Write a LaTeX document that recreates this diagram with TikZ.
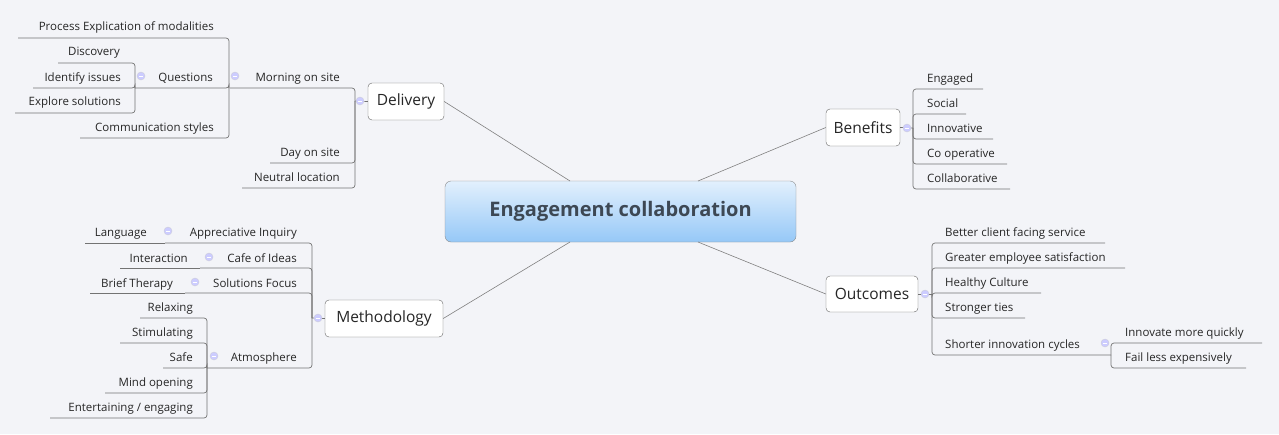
\documentclass[tikz,border=0pt]{standalone}
\usepackage{fontspec}
\setmainfont{Open Sans}
\begin{document}
\begin{tikzpicture}[x=1pt,y=-1pt,
  ln/.style={draw=black!55,line width=0.7pt,rounded corners=3pt},
  tl/.style={anchor=base east,inner sep=0pt,font=\fontsize{11.5}{13}\selectfont,text=black!85},
  tr/.style={anchor=base west,inner sep=0pt,font=\fontsize{11.5}{13}\selectfont,text=black!85},
  bx/.style={draw=black!60,fill=white,rounded corners=4pt,font=\fontsize{15.5}{18}\selectfont,text=black!85,inner sep=0pt},
  cc/.style={circle,draw=blue!25!black!20,fill=blue!20!white,inner sep=0pt,minimum size=8pt,
    path picture={\draw[white,line width=0.8pt] ([xshift=-2pt]path picture bounding box.center)--([xshift=2pt]path picture bounding box.center);}},
  spoke/.style={draw=black!50,line width=0.6pt}]
\fill[fill={rgb,255:red,243;green,244;blue,248}] (0,0) rectangle (1279,434);
\useasboundingbox (0,0) rectangle (1279,434);
% center
\node[rounded corners=6pt,draw=black!45,top color={rgb,255:red,226;green,240;blue,253},bottom color={rgb,255:red,150;green,200;blue,247},minimum width=351pt,minimum height=61pt,font=\fontsize{20}{24}\selectfont\bfseries,text={rgb,255:red,61;green,72;blue,84}] (C) at (620.5,211.5) {Engagement collaboration};
% main boxes
\node[bx,minimum width=76pt,minimum height=37pt] (D) at (406,101.5) {Delivery};
\node[bx,minimum width=118pt,minimum height=37pt] (M) at (384,318.5) {Methodology};
\node[bx,minimum width=74pt,minimum height=37pt] (B) at (863,127.5) {Benefits};
\node[bx,minimum width=92pt,minimum height=36pt] (O) at (872,294) {Outcomes};
\coordinate (c1) at (570,181);\coordinate (c2) at (570,242);
\coordinate (c3) at (698,181);\coordinate (c4) at (698,242);
\draw[spoke] (D.east) -- (c1);
\draw[spoke] (M.east) -- (c2);
\draw[spoke] (B.west) -- (c3);
\draw[spoke] (O.west) -- (c4);
% ---- Delivery
\foreach \xs/\yc in {230/88,270/163,242/188}{\draw[ln] (\xs,\yc) -- (355,\yc) -- (355,101);}
\draw[ln] (355,101) -- (D.west);
\node[cc] (dc) at (360,101) {};
\node[tl] (mo) at (340,81) {Morning on site};
\node[tl] (ds) at (340,156) {Day on site};
\node[tl] (nl) at (340,181) {Neutral location};
\foreach \xs/\yc in {18/38,135/88,80/138}{\draw[ln] (\xs,\yc) -- (229,\yc) -- (229,88);}
\node[cc] (mc) at (235,76) {};
\node[tl] (pe) at (214,30) {Process Explication of modalities};
\node[tl] (qu) at (213,81) {Questions};
\node[tl] (cs) at (214,131) {Communication styles};
\foreach \xs/\yc in {58/63,33/88,15/113}{\draw[ln] (\xs,\yc) -- (135,\yc) -- (135,88);}
\node[cc] (qc) at (141,76) {};
\node[tl] (di) at (120,55) {Discovery};
\node[tl] (ii) at (121,81) {Identify issues};
\node[tl] (es) at (121,105) {Explore solutions};
% ---- Methodology
\foreach \xs/\yc in {165/243,200/268,185/293,207/368}{\draw[ln] (\xs,\yc) -- (312,\yc) -- (312,318);}
\draw[ln] (312,318) -- (M.west);
\node[cc] (mec) at (318,318) {};
\node[tl] (ai) at (297,236) {Appreciative Inquiry};
\node[tl] (ci) at (297,262) {Cafe of Ideas};
\node[tl] (sf) at (297,287) {Solutions Focus};
\node[tl] (at) at (297,361) {Atmosphere};
\draw[ln] (85,243) -- (165,243);
\draw[ln] (120,268) -- (200,268);
\draw[ln] (90,293) -- (185,293);
\node[cc] (aic) at (168,231) {};
\node[cc] (cic) at (209,257) {};
\node[cc] (sfc) at (195,282) {};
\node[tl] (la) at (147,236) {Language};
\node[tl] (in) at (188,262) {Interaction};
\node[tl] (bt) at (173,287) {Brief Therapy};
\foreach \xs/\yc in {140/318,120/343,163/368,105/393,50/418}{\draw[ln] (\xs,\yc) -- (207,\yc) -- (207,368);}
\node[cc] (atc) at (214,356) {};
\node[tl] (re) at (193,311) {Relaxing};
\node[tl] (st) at (193,336) {Stimulating};
\node[tl] (sa) at (193,361) {Safe};
\node[tl] (mi) at (193,386) {Mind opening};
\node[tl] (en) at (193,411) {Entertaining / engaging};
% ---- Benefits
\foreach \xe/\yc in {983/89,966/114,993/139,1007/164,1010/189}{\draw[ln] (\xe,\yc) -- (913,\yc) -- (913,128);}
\draw[ln] (913,128) -- (B.east);
\node[cc] (bc) at (907,128) {};
\node[tr] (b1) at (927,82) {Engaged};
\node[tr] (b2) at (927,107) {Social};
\node[tr] (b3) at (927,132) {Innovative};
\node[tr] (b4) at (927,157) {Co operative};
\node[tr] (b5) at (927,182) {Collaborative};
% ---- Outcomes
\foreach \xe/\yc in {1105/243,1125/268,1041/293,1025/318,1111/355}{\draw[ln] (\xe,\yc) -- (932,\yc) -- (932,294);}
\draw[ln] (932,294) -- (O.east);
\node[cc] (oc) at (925,294) {};
\node[tr] (o1) at (945,236) {Better client facing service};
\node[tr] (o2) at (945,261) {Greater employee satisfaction};
\node[tr] (o3) at (945,286) {Healthy Culture};
\node[tr] (o4) at (945,311) {Stronger ties};
\node[tr] (o5) at (945,348) {Shorter innovation cycles};
\foreach \xe/\yc in {1262/343,1246/368}{\draw[ln] (\xe,\yc) -- (1111,\yc) -- (1111,355);}
\node[cc] (sc) at (1105,343) {};
\node[tr] (s1) at (1125,336) {Innovate more quickly};
\node[tr] (s2) at (1125,361) {Fail less expensively};
\end{tikzpicture}
\end{document}
